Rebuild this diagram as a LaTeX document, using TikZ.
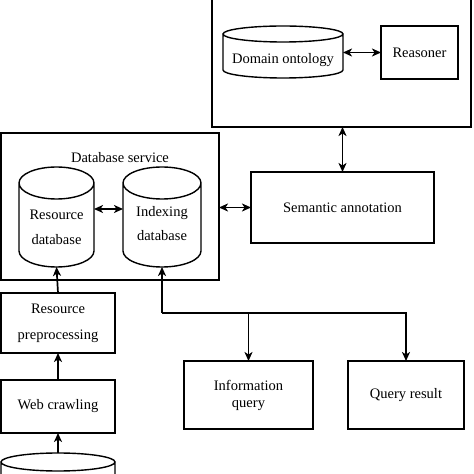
\documentclass[tikz,border=0pt]{standalone}
\usepackage{fontspec}
\setmainfont{Liberation Serif}
\usetikzlibrary{positioning, arrows.meta, calc}

% database drum drawn round a named node: #1 node, #2 radius of the ends
\newcommand{\drum}[2]{%
  \draw[line width=1.4pt] let \p1=(#1.west), \p2=(#1.east), \n1={(\x2-\x1)/2} in
    ([yshift=#2pt]#1.north) ellipse [x radius=\n1, y radius=#2pt]
    ([yshift=#2pt]#1.north west) -- ([yshift=#2pt]#1.south west)
    arc [start angle=180, end angle=360, x radius=\n1, y radius=#2pt]
    -- ([yshift=#2pt]#1.north east);}

\begin{document}
\begin{tikzpicture}[
    x=1pt, y=1pt,
    >={Stealth[length=9pt, width=8pt, inset=2.5pt]},
    every node/.style={font=\fontsize{14.5}{17}\selectfont},
    box/.style={
        draw, line width=1.4pt, inner sep=0pt, outer sep=0pt, align=center
    },
    db/.style={inner sep=0pt, outer sep=0pt, align=center},
    link/.style={line width=1.7pt},
]
\useasboundingbox (0,0) rectangle (474,474);
\clip (0,0) rectangle (474,474);

% Ontology service (top, cut off by the frame)
\node[box, minimum width=259, minimum height=147] (onto) at (341.5, 420.5) {};
\node[db, minimum width=120, minimum height=36] (domain) at (283, 414) {Domain ontology};
\drum{domain}{8}
\node[box, minimum width=77, minimum height=53] (reasoner) at (419.5, 421.5) {Reasoner};

% Database service
\node[box, minimum width=218, minimum height=147] (dbsvc) at (110, 267.5) {};
\node (dbtitle) at (120, 316) {Database service};
\node[db, minimum width=75, minimum height=68, text depth=12pt] (resdb) at (56.5, 241)
    {Resource\\[8pt]database};
\drum{resdb}{16}
\node[db, minimum width=78, minimum height=68, text depth=20pt] (idxdb) at (162, 241)
    {Indexing\\[7pt]database};
\drum{idxdb}{16}

% Semantic annotation
\node[box, minimum width=183, minimum height=71] (sem) at (342.5, 266.5)
    {Semantic annotation};

% Left column
\node[box, minimum width=114, minimum height=60] (prep) at (58, 151)
    {Resource\\[9pt]preprocessing};
\node[box, minimum width=114, minimum height=53] (crawl) at (58, 67.5)
    {Web crawling};
\node[db, minimum width=114, minimum height=49] (web) at (58, -21.5) {};
\drum{web}{9}

% Query boxes
\node[box, minimum width=129, minimum height=68] (info) at (248.5, 79)
    {Information\\query};
\node[box, minimum width=116, minimum height=68] (qres) at (406, 79)
    {Query result};

% Arrows
\draw[<->, link] (reasoner.west -| domain.east) -- (reasoner.west);
\draw[<->, link] (sem.north) -- (sem.north |- onto.south);
\draw[<->, link] (dbsvc.east |- sem) -- (sem.west);
\draw[<->, link] ([yshift=24pt]resdb.east) -- ([yshift=24pt]idxdb.west);
\draw[->, link] ([yshift=18pt]web.north) -- (crawl.south);
\draw[->, link] (crawl.north) -- (prep.south);
\draw[->, link] (prep.north) -- (resdb.south);

% Indexing database to queries
\coordinate (bus) at (162, 161);
\draw[->, link] (bus) -- (idxdb.south);
\draw[->, link] (bus) -| (qres.north);
\draw[->, link] (info.north |- bus) -- (info.north);

\end{tikzpicture}
\end{document}
